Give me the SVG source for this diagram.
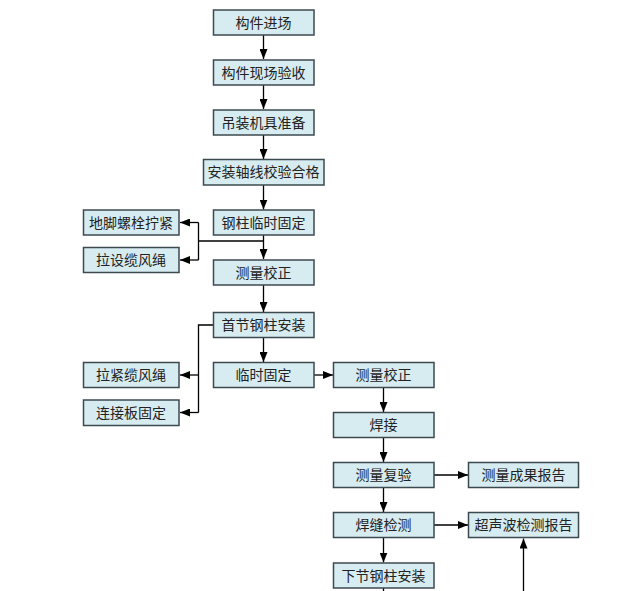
<svg xmlns="http://www.w3.org/2000/svg" width="638" height="591" viewBox="0 0 638 591">
<style>
.b{fill:#D7ECF1;stroke:#3C4A50;stroke-width:1.5}
.t{font-family:"Noto Sans CJK SC",sans-serif;font-size:14px;fill:#222;text-anchor:middle}
.c{fill:none;stroke:#000;stroke-width:1.3}
</style>
<defs>
<marker id="a" viewBox="0 0 10 8" refX="10" refY="4" markerWidth="10" markerHeight="8" markerUnits="userSpaceOnUse" orient="auto"><path d="M0,0L10,4L0,8Z" fill="#000"/></marker>
</defs>
<rect width="638" height="591" fill="#fff"/>
<g id="connectors">
<path class="c" d="M263.5,35V59" marker-end="url(#a)"/>
<path class="c" d="M263.5,85V109" marker-end="url(#a)"/>
<path class="c" d="M263.5,135V159" marker-end="url(#a)"/>
<path class="c" d="M263.5,185V209.5" marker-end="url(#a)"/>
<path class="c" d="M263.5,235V259" marker-end="url(#a)"/>
<path class="c" d="M263.5,241H198.5"/>
<path class="c" d="M198.5,222.5V260"/>
<path class="c" d="M198.5,222.5H180" marker-end="url(#a)"/>
<path class="c" d="M198.5,260H180" marker-end="url(#a)"/>
<path class="c" d="M263.5,285V312" marker-end="url(#a)"/>
<path class="c" d="M263.5,338V362" marker-end="url(#a)"/>
<path class="c" d="M213,325H198.5V412.5"/>
<path class="c" d="M198.5,375H180" marker-end="url(#a)"/>
<path class="c" d="M198.5,412.5H180" marker-end="url(#a)"/>
<path class="c" d="M314,375H333" marker-end="url(#a)"/>
<path class="c" d="M383.5,388V412" marker-end="url(#a)"/>
<path class="c" d="M383.5,438V462" marker-end="url(#a)"/>
<path class="c" d="M383.5,488V512" marker-end="url(#a)"/>
<path class="c" d="M383.5,538V562.5" marker-end="url(#a)"/>
<path class="c" d="M383.5,588V591"/>
<path class="c" d="M434,475H468" marker-end="url(#a)"/>
<path class="c" d="M434,525H468" marker-end="url(#a)"/>
<path class="c" d="M523.5,591V538.5" marker-end="url(#a)"/>
</g>
<g id="n1"><rect class="b" x="213.5" y="10" width="100.5" height="25"/><text class="t" x="263.5" y="27.5">构件进场</text></g>
<g id="n2"><rect class="b" x="213.5" y="60" width="100.5" height="25"/><text class="t" x="263.5" y="77.5">构件现场验收</text></g>
<g id="n3"><rect class="b" x="213.5" y="110" width="100.5" height="25"/><text class="t" x="263.5" y="127.5">吊装机具准备</text></g>
<g id="n4"><rect class="b" x="203.5" y="159.5" width="120.5" height="25.5"/><text class="t" x="263.5" y="177">安装轴线校验合格</text></g>
<g id="n5"><rect class="b" x="213.5" y="210" width="100.5" height="25"/><text class="t" x="263.5" y="227.5">钢柱临时固定</text></g>
<g id="n6"><rect class="b" x="83.5" y="210" width="95.5" height="25"/><text class="t" x="131" y="227.5">地脚螺栓拧紧</text></g>
<g id="n7"><rect class="b" x="83.5" y="247.5" width="95.5" height="25"/><text class="t" x="131" y="265">拉设缆风绳</text></g>
<g id="n8"><rect class="b" x="213.5" y="260" width="100.5" height="25"/><text class="t" x="263.5" y="277.5">测量校正</text></g>
<g id="n9"><rect class="b" x="213.5" y="312.5" width="100.5" height="25"/><text class="t" x="263.5" y="330">首节钢柱安装</text></g>
<g id="n10"><rect class="b" x="213.5" y="362.5" width="100.5" height="25"/><text class="t" x="263.5" y="380">临时固定</text></g>
<g id="n11"><rect class="b" x="83.5" y="362.5" width="95.5" height="25"/><text class="t" x="131" y="380">拉紧缆风绳</text></g>
<g id="n12"><rect class="b" x="83.5" y="400" width="95.5" height="25.5"/><text class="t" x="131" y="417.5">连接板固定</text></g>
<g id="n13"><rect class="b" x="333.5" y="362.5" width="100.5" height="25"/><text class="t" x="383.5" y="380">测量校正</text></g>
<g id="n14"><rect class="b" x="333.5" y="412.5" width="100.5" height="25"/><text class="t" x="383.5" y="430">焊接</text></g>
<g id="n15"><rect class="b" x="333.5" y="462.5" width="100.5" height="25"/><text class="t" x="383.5" y="480">测量复验</text></g>
<g id="n16"><rect class="b" x="333.5" y="512.5" width="100.5" height="25"/><text class="t" x="383.5" y="530">焊缝检测</text></g>
<g id="n17"><rect class="b" x="333.5" y="563" width="100.5" height="25"/><text class="t" x="383.5" y="580.5">下节钢柱安装</text></g>
<g id="n18"><rect class="b" x="468.5" y="462.5" width="110" height="25"/><text class="t" x="523.5" y="480">测量成果报告</text></g>
<g id="n19"><rect class="b" x="468.5" y="512.5" width="110" height="25"/><text class="t" x="523.5" y="530">超声波检测报告</text></g>
</svg>
